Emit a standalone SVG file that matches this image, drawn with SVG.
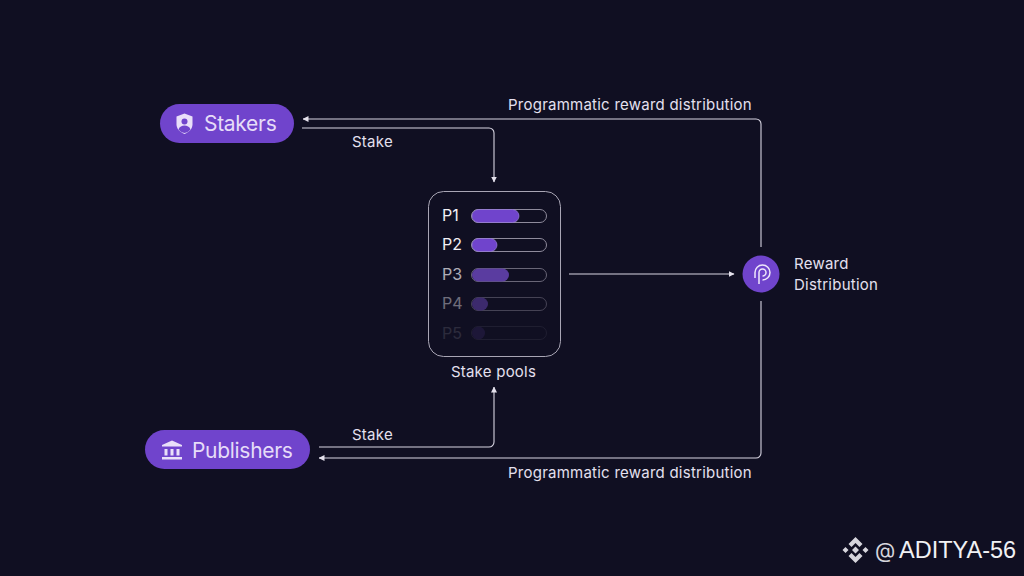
<svg xmlns="http://www.w3.org/2000/svg" width="1024" height="576" viewBox="0 0 1024 576">
<style>
text{font-family:"Inter","Liberation Sans",sans-serif;fill:#e4e0ef}
.lbl{font-size:15px;letter-spacing:.24px}
.pill{fill:#7044cc}
.pt{font-size:21px;fill:#e6dcf8;letter-spacing:-.3px}
.con{fill:none;stroke:#d8d5e2;stroke-width:1.1}
.track{fill:none;stroke:#8f8b9c;stroke-width:1}
.pn{font-size:16px;fill:#f2f0f6}
.fill{fill:#7044cc;stroke:#a58ce0;stroke-width:.6}
.fill2{fill:#7a4fd6}
</style>
<defs>
<marker id="a" viewBox="0 0 6 6" refX="5.500" refY="3" markerWidth="6" markerHeight="6" markerUnits="userSpaceOnUse" orient="auto"><path d="M0 0L6 3L0 6Z" fill="#e4e1ec"/></marker>
</defs>
<rect width="1024" height="576" fill="#100f22"/>
<g id="connectors">
<path class="con" marker-end="url(#a)" d="M302 128H489a5 5 0 0 1 5 5V182"/>
<path class="con" marker-end="url(#a)" d="M761 247V124a5 5 0 0 0-5-5H303"/>
<path class="con" marker-end="url(#a)" d="M569 274H734"/>
<path class="con" marker-end="url(#a)" d="M761 301V453a5 5 0 0 1-5 5H319"/>
<path class="con" marker-end="url(#a)" d="M319 447H489a5 5 0 0 0 5-5V387"/>
</g>
<g id="stakers">
<rect class="pill" x="160" y="104" width="134" height="39" rx="19.500"/>
<path d="M184.500 113.500l8 3v8c0 4.500-3.500 7.500-8 9.500c-4.500-2-8-5-8-9.500v-8z" fill="#e9dff9"/>
<circle cx="184.500" cy="121.500" r="3" fill="#7044cc"/>
<path d="M178.500 129.500c1-3 3.500-4 6-4s5 1 6 4c-1 1.500-3.500 3-6 3.500c-2.500-.5-5-2-6-3.500z" fill="#7044cc"/>
<text class="pt" x="204" y="131">Stakers</text>
</g>
<g id="publishers">
<rect class="pill" x="145" y="430" width="165" height="39" rx="19.500"/>
<path d="M172 440.500l10 4.500v1.500h-20v-1.500zM164.500 449h3v6.500h-3zM170.500 449h3v6.500h-3zM176.500 449h3v6.500h-3zM162 457h20v2.500h-20z" fill="#e9dff9"/>
<text class="pt" x="192" y="458">Publishers</text>
</g>
<g id="stake-pools">
<rect x="428.500" y="191.500" width="132" height="165" rx="15" fill="none" stroke="#a9a6b5" stroke-width="1"/>
<g id="p1"><text class="pn" x="442" y="221">P1</text><rect class="track" x="471.500" y="209.500" width="75" height="13" rx="6.500"/><rect class="fill" x="472" y="209.500" width="47" height="13" rx="6.500"/></g>
<g id="p2"><text class="pn" x="442" y="250">P2</text><rect class="track" x="471.500" y="238.500" width="75" height="13" rx="6.500"/><rect class="fill" x="472" y="238.500" width="25" height="13" rx="6.500"/></g>
<g id="p3" opacity=".7"><text class="pn" x="442" y="280">P3</text><rect class="track" x="471.500" y="268.500" width="75" height="13" rx="6.500"/><rect class="fill2" x="472" y="268.500" width="37" height="13" rx="6.500"/></g>
<g id="p4" opacity=".42"><text class="pn" x="442" y="309">P4</text><rect class="track" x="471.500" y="297.500" width="75" height="13" rx="6.500"/><rect class="fill2" x="472" y="297.500" width="16" height="13" rx="6.500"/></g>
<g id="p5" opacity=".12"><text class="pn" x="442" y="339">P5</text><rect class="track" x="471.500" y="326.500" width="75" height="13" rx="6.500"/><rect class="fill2" x="472" y="326.500" width="13" height="13" rx="6.500"/></g>
<text class="lbl" x="493.500" y="377" text-anchor="middle">Stake pools</text>
</g>
<g id="reward-distribution">
<circle cx="761" cy="274" r="18.500" fill="#7044cc"/>
<path d="M759 284V272.500a3.500 3.500 0 1 1 3.500 3.500" fill="none" stroke="#eee6fb" stroke-width="1.500"/>
<path d="M755 278V272.500a7.500 7.500 0 1 1 7.500 7.500" fill="none" stroke="#eee6fb" stroke-width="1.500"/>
<text class="lbl" x="794" y="269">Reward</text>
<text class="lbl" x="794" y="290">Distribution</text>
</g>
<g id="labels">
<text class="lbl" x="508" y="110">Programmatic reward distribution</text>
<text class="lbl" x="352" y="147">Stake</text>
<text class="lbl" x="352" y="440">Stake</text>
<text class="lbl" x="508" y="478">Programmatic reward distribution</text>
</g>
<g id="watermark">
<path d="M855.500 537l7 7-3 3-4-4-4 4-3-3zM855.500 563l7-7-3-3-4 4-4-4-3 3zM855.500 546.500l3.500 3.500-3.500 3.500-3.500-3.500zM845.500 547l3 3-3 3-3-3zM865.500 547l3 3-3 3-3-3z" fill="#d6d5dc"/>
<text x="875" y="558" font-size="21" style="fill:#d6d5dc">@</text>
<text x="899" y="558" font-size="23.500" style="fill:#f1f1f4;font-family:'Liberation Sans',sans-serif">ADITYA-56</text>
</g>
</svg>
